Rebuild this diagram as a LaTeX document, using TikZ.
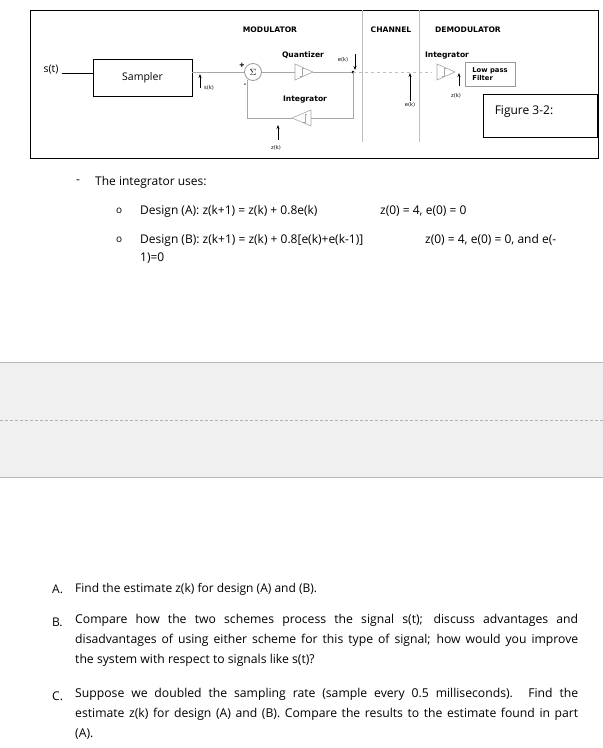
\documentclass[tikz,border=0pt]{standalone}
\usepackage{fontspec}
\setmainfont{Open Sans}
\newfontfamily\lab{DejaVu Sans}
\usetikzlibrary{arrows.meta}
\begin{document}
\begin{tikzpicture}[x=1pt,y=-1pt,
  sig/.style={draw=gray!70,line width=0.8pt},
  arr/.style={-{Stealth[length=4pt]},line width=0.9pt},
  tri/.style={draw=gray!70,line width=0.6pt},
  hd/.style={font=\lab\bfseries\fontsize{7.6}{9}\selectfont},
  sm/.style={font=\lab\fontsize{5.2}{6}\selectfont},
  mid/.style={font=\lab\bfseries\fontsize{7.6}{9}\selectfont},
  body/.style={font=\fontsize{12}{15}\selectfont,anchor=west,inner sep=0pt},
  para/.style={anchor=north west,inner sep=0pt,text width=503pt,align=justify,font=\fontsize{12.2}{20}\selectfont}]
\useasboundingbox (0,0) rectangle (603,748);
% frame
\draw[line width=0.8pt] (30,10) rectangle (598,158);
\draw[gray!50,line width=0.6pt] (362,10) -- (362,142);
\draw[gray!50,line width=0.6pt] (419,10) -- (419,142);
\node[hd] (mod) at (270,30) {MODULATOR};
\node[hd] (ch) at (391,30) {CHANNEL};
\node[hd] (dem) at (468,30) {DEMODULATOR};
% sampler
\node[font=\fontsize{10.5}{12}\selectfont,inner sep=0pt] (st) at (51,70) {s(t)};
\node[draw,line width=0.7pt,minimum width=99pt,minimum height=37pt,inner sep=0pt,font=\fontsize{10.5}{12}\selectfont] (samp) at (142.5,77.5) {Sampler};
\coordinate (stend) at (62,73);
\draw[line width=0.6pt] (stend) -- (samp.west |- stend);
\node[circle,draw=gray!80,line width=0.8pt,minimum size=17pt,inner sep=0pt,font=\small] (sum) at (253,72) {$\Sigma$};
\draw[sig] (samp.east |- sum) -- (sum.west);
\node[font=\bfseries\small] (plus) at (242,66) {+};
\node[font=\bfseries\scriptsize] (minus) at (245,85) {-};
\coordinate (skt) at (200,74);
\coordinate (skb) at (200,88);
\draw[arr] (skb) -- (skt);
\node[sm] (sk) at (209,88) {s(k)};
% quantizer
\node[mid] (qz) at (303,55) {Quantizer};
\draw[tri] (295,64) -- (313,72) -- (295,80) -- cycle;
\draw[gray!70,line width=0.4pt] (300,76) -- (302,76) -- (302,68) -- (304,68);
\draw[sig] (sum.east) -- (295,72);
\coordinate (dot) at (353,72);
\draw[sig] (313,72) -- (dot);
\fill (dot) circle (1.5pt);
\draw[gray!50,dashed,line width=0.6pt] (dot) -- (432,72);
\coordinate (ekt) at (355,54);
\coordinate (ekb) at (355,70);
\draw[arr] (ekt) -- (ekb);
\node[sm] (ek) at (343,60) {e(k)};
% integrator feedback
\node[mid] (intg) at (305,100) {Integrator};
\draw[sig] (dot) -- (353,118) -- (311,118);
\draw[tri] (311,110) -- (292,118) -- (311,126) -- cycle;
\draw[gray!70,line width=0.4pt] (303,122) -- (305,122) -- (305,114) -- (307,114);
\draw[sig] (292,118) -- (247,118) -- (247,80);
\coordinate (zkb) at (278,140);
\coordinate (zkt) at (278,125);
\draw[arr] (zkb) -- (zkt);
\node[sm] (zk) at (276,148) {z(k)};
% demodulator
\node[mid] (intg2) at (447,56) {Integrator};
\draw[tri] (437,64) -- (455,72) -- (437,80) -- cycle;
\draw[gray!70,line width=0.4pt] (442,76) -- (444,76) -- (444,68) -- (446,68);
\coordinate (ek2b) at (410,101);
\coordinate (ek2t) at (410,73);
\draw[arr] (ek2b) -- (ek2t);
\node[sm] (ek2) at (410,105) {e(k)};
\coordinate (zk2b) at (459,86);
\coordinate (zk2t) at (459,73);
\draw[arr] (zk2b) -- (zk2t);
\node[sm] (zk2) at (456,96) {z(k)};
\node[draw=gray!80,line width=0.6pt,minimum width=50pt,minimum height=24pt,inner sep=0pt,align=left,font=\lab\bfseries\fontsize{6.8}{7.5}\selectfont] (lpf) at (490,74) {Low pass\\ Filter};
\node[draw,line width=0.8pt,minimum width=114pt,minimum height=43pt,inner sep=0pt] (figbox) at (540,115.5) {};
\node[font=\fontsize{12}{14}\selectfont] (figt) at (524,112) {Figure 3-2:};
% text
\node[body] (dash) at (76,182) {-};
\node[body] (t1) at (95,182) {The integrator uses:};
\node[body] (b1) at (116,211) {\fontsize{10}{12}\selectfont o};
\node[body] (da) at (140,211) {Design (A): z(k+1) = z(k) + 0.8e(k)};
\node[body] (da2) at (380,211) {z(0) = 4, e(0) = 0};
\node[body] (b2) at (116,240) {\fontsize{10}{12}\selectfont o};
\node[body] (db) at (140,240) {Design (B): z(k+1) = z(k) + 0.8[e(k)+e(k-1)]};
\node[body] (db2) at (425,240) {z(0) = 4, e(0) = 0, and e(-};
\node[body] (db3) at (140,258) {1)=0};
% gray band
\fill[gray!12] (0,362) rectangle (603,477);
\draw[gray!55,line width=0.7pt] (0,362) -- (603,362);
\draw[gray!55,line width=0.7pt] (0,477) -- (603,477);
\draw[gray!60,line width=0.6pt,dash pattern=on 3pt off 2pt] (0,420) -- (603,420);
% questions
\node[body] (qa) at (52,589) {A.};
\node[body] (ta) at (75,589) {Find the estimate z(k) for design (A) and (B).};
\node[body] (qb) at (52,622) {B.};
\node[para] (tb) at (75,614) {Compare how the two schemes process the signal s(t); discuss advantages and\linebreak disadvantages of using either scheme for this type of signal; how would you improve\linebreak the system with respect to signals like s(t)?};
\node[body] (qc) at (52,696) {C.};
\node[para] (tc) at (75,688) {Suppose we doubled the sampling rate (sample every 0.5 milliseconds). Find the\linebreak estimate z(k) for design (A) and (B). Compare the results to the estimate found in part\linebreak (A).};
\end{tikzpicture}
\end{document}
